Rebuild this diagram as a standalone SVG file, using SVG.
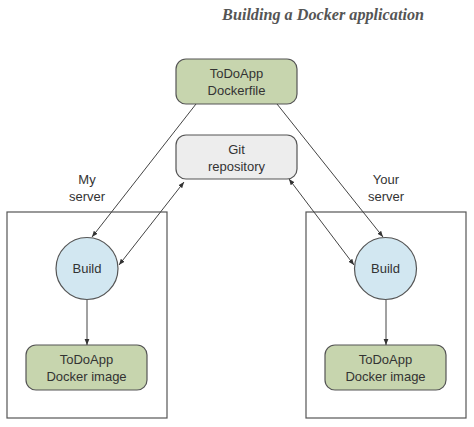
<svg xmlns="http://www.w3.org/2000/svg" width="474" height="427" viewBox="0 0 474 427">
<defs>
<marker id="ah" viewBox="0 0 10 10" refX="10" refY="5" markerWidth="6" markerHeight="6" orient="auto-start-reverse" markerUnits="userSpaceOnUse">
<path d="M0,1 L10,5 L0,9 z" fill="#333"/>
</marker>
<style>
.t{font-family:"Liberation Sans",Arial,sans-serif;font-size:13px;fill:#333;text-anchor:middle}
.title{font-family:"Liberation Serif","Times New Roman",serif;font-size:16.2px;font-weight:bold;font-style:italic;fill:#555;text-anchor:end}
.green{fill:#c7d5ae;stroke:#555;stroke-width:1.2}
.gray{fill:#ededed;stroke:#555;stroke-width:1.2}
.blue{fill:#d2e7f1;stroke:#555;stroke-width:1.2}
.srv{fill:none;stroke:#555;stroke-width:1.2}
.c{stroke:#444;stroke-width:1;fill:none}
</style>
</defs>
<rect width="474" height="427" fill="#fff"/>
<text class="title" x="424" y="20">Building a Docker application</text>

<g id="myserver">
<rect class="srv" x="7" y="212" width="160" height="206"/>
<text class="t" x="87" y="184">My</text>
<text class="t" x="87" y="201">server</text>
</g>
<g id="yourserver">
<rect class="srv" x="306" y="212" width="160" height="206"/>
<text class="t" x="386" y="184">Your</text>
<text class="t" x="386" y="201">server</text>
</g>

<g id="dockerfile">
<rect class="green" x="176" y="59" width="121" height="45" rx="10"/>
<text class="t" x="236.5" y="78">ToDoApp</text>
<text class="t" x="236.5" y="95">Dockerfile</text>
</g>
<g id="git">
<rect class="gray" x="176" y="135" width="121" height="44" rx="10"/>
<text class="t" x="236.5" y="154">Git</text>
<text class="t" x="236.5" y="171">repository</text>
</g>
<g id="build1">
<circle class="blue" cx="87" cy="268.5" r="31"/>
<text class="t" x="87" y="273">Build</text>
</g>
<g id="build2">
<circle class="blue" cx="385.5" cy="268.5" r="31"/>
<text class="t" x="385.5" y="273">Build</text>
</g>
<g id="image1">
<rect class="green" x="26" y="345" width="121" height="45" rx="10"/>
<text class="t" x="86.5" y="364">ToDoApp</text>
<text class="t" x="86.5" y="381">Docker image</text>
</g>
<g id="image2">
<rect class="green" x="325" y="345" width="121" height="45" rx="10"/>
<text class="t" x="385.5" y="364">ToDoApp</text>
<text class="t" x="385.5" y="381">Docker image</text>
</g>

<g id="connectors">
<line class="c" x1="196" y1="104" x2="92" y2="237" marker-end="url(#ah)"/>
<line class="c" x1="277" y1="104" x2="383" y2="237" marker-end="url(#ah)"/>
<line class="c" x1="184" y1="182" x2="119" y2="265" marker-start="url(#ah)" marker-end="url(#ah)"/>
<line class="c" x1="289" y1="179" x2="354" y2="265" marker-start="url(#ah)" marker-end="url(#ah)"/>
<line class="c" x1="87" y1="300" x2="87" y2="345" marker-end="url(#ah)"/>
<line class="c" x1="386" y1="300" x2="386" y2="345" marker-end="url(#ah)"/>
</g>
</svg>
